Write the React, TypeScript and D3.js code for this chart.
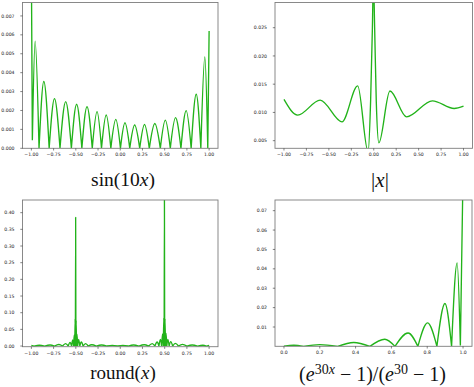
import React from 'react';
import * as d3 from 'd3';

type P = [number, number];

// ---------- data (extrema of each error curve) ----------
const sinPoints: P[] = [
  [-1.0, 0.0095], [-0.989, 0.00043], [-0.958, 0.00567], [-0.914, 0], [-0.860, 0.00353], [-0.800, 0],
  [-0.740, 0.00263], [-0.678, 0], [-0.614, 0.00247], [-0.550, 0], [-0.491, 0.00233], [-0.432, 0],
  [-0.374, 0.0022], [-0.315, 0], [-0.261, 0.00194], [-0.211, 0], [-0.158, 0.00176], [-0.106, 0],
  [-0.050, 0.00153], [0.002, 0], [0.053, 0.00135], [0.107, 0], [0.162, 0.00123], [0.219, 0],
  [0.273, 0.00126], [0.327, 0], [0.389, 0.00131], [0.451, 0], [0.507, 0.00149], [0.563, 0],
  [0.622, 0.00162], [0.683, 0], [0.742, 0.00199], [0.798, 0], [0.855, 0.00286], [0.907, 0],
  [0.952, 0.00483], [0.985, 0], [1.0, 0.0062],
];

const absPoints: P[] = [
  [-1.0, 0.0123], [-0.847, 0.00952], [-0.597, 0.01218], [-0.354, 0.00834], [-0.179, 0.0147],
  [-0.063, 0.0030], [-0.035, 0.012], [-0.015, 0.025], [-0.004, 0.034], [0.010, 0.025],
  [0.028, 0.012], [0.057, 0.00462], [0.18, 0.0138], [0.366, 0.00922], [0.653, 0.01205],
  [0.896, 0.0107], [1.0, 0.0111],
];

const roundPoints: P[] = [
  [-1.0, 0.002], [-0.97, 0], [-0.91, 0.0025], [-0.85, 0], [-0.79, 0.003], [-0.74, 0],
  [-0.69, 0.0045], [-0.65, 0], [-0.615, 0.007], [-0.585, 0], [-0.565, 0.011], [-0.548, 0],
  [-0.536, 0.018], [-0.526, 0], [-0.518, 0.033], [-0.512, 0], [-0.508, 0.082], [-0.505, 0],
  [-0.502, 0.386], [-0.499, 0], [-0.496, 0.078], [-0.492, 0], [-0.486, 0.035], [-0.479, 0],
  [-0.468, 0.02], [-0.455, 0], [-0.438, 0.012], [-0.418, 0], [-0.39, 0.007], [-0.36, 0],
  [-0.32, 0.004], [-0.27, 0], [-0.21, 0.003], [-0.15, 0], [-0.09, 0.002], [-0.03, 0],
  [0.03, 0.002], [0.09, 0], [0.15, 0.003], [0.21, 0], [0.27, 0.004], [0.32, 0],
  [0.36, 0.007], [0.39, 0], [0.415, 0.012], [0.435, 0], [0.452, 0.02], [0.465, 0],
  [0.476, 0.036], [0.484, 0], [0.49, 0.085], [0.494, 0], [0.497, 0.47], [0.5, 0],
  [0.504, 0.083], [0.509, 0], [0.516, 0.038], [0.524, 0], [0.536, 0.02], [0.55, 0],
  [0.568, 0.013], [0.59, 0], [0.62, 0.008], [0.655, 0], [0.7, 0.005], [0.75, 0],
  [0.81, 0.003], [0.87, 0], [0.93, 0.0025], [0.97, 0], [1.0, 0.002],
];

const expPoints: P[] = [
  [0.0, 0.0001], [0.055, 0.0006], [0.11, 0], [0.2, 0.0009], [0.30, 0], [0.39, 0.0020],
  [0.48, 0], [0.563, 0.0037], [0.62, 0], [0.693, 0.0069], [0.748, 0], [0.802, 0.0121],
  [0.854, 0], [0.899, 0.0221], [0.936, 0], [0.967, 0.0431], [0.985, 0.0005], [1.0, 0.09],
];

const xTicksSym = [-1, -0.75, -0.5, -0.25, 0, 0.25, 0.5, 0.75, 1];
const xTicksUnit = [0, 0.2, 0.4, 0.6, 0.8, 1.0];
const yTicksSin = [0, 0.001, 0.002, 0.003, 0.004, 0.005, 0.006, 0.007];
const yTicksAbs = [0.005, 0.01, 0.015, 0.02, 0.025];
const yTicksRound = [0, 0.05, 0.1, 0.15, 0.2, 0.25, 0.3, 0.35, 0.4];
const yTicksExp = [0.01, 0.02, 0.03, 0.04, 0.05, 0.06, 0.07];

const GREEN = '#22b31a';
const SPINE = '#7d7d7d';
const TICKFONT = 'DejaVu Sans, sans-serif';
const SERIF = 'Liberation Serif, Times New Roman, serif';

function splitAtMinima(pts: P[], cusps: boolean): P[][] {
  if (!cusps) return [pts];
  const segs: P[][] = [];
  let cur: P[] = [pts[0]];
  for (let i = 1; i < pts.length; i++) {
    cur.push(pts[i]);
    if (i < pts.length - 1 && pts[i][1] < pts[i - 1][1] && pts[i][1] < pts[i + 1][1]) {
      segs.push(cur);
      cur = [pts[i]];
    }
  }
  segs.push(cur);
  return segs;
}

interface PanelProps {
  id: string;
  L: number; R: number; T: number; B: number;
  xDomain: [number, number];
  yDomain: [number, number];
  xTicks: number[];
  yTicks: number[];
  xFmt: string;
  yFmt: string;
  points: P[];
  cusps: boolean;
}

function Panel(p: PanelProps) {
  const x = d3.scaleLinear().domain(p.xDomain).range([p.L, p.R]);
  const y = d3.scaleLinear().domain(p.yDomain).range([p.B, p.T]);
  const line = d3.line<P>().x(d => x(d[0])).y(d => y(d[1])).curve(d3.curveMonotoneX);
  const segs = splitAtMinima(p.points, p.cusps);
  const d = segs.map(s => line(s) || '').join('');
  const xf = d3.format(p.xFmt);
  const yf = d3.format(p.yFmt);
  const tl = 2.2;
  return (
    <g>
      <defs>
        <clipPath id={p.id}>
          <rect x={p.L} y={p.T} width={p.R - p.L} height={p.B - p.T} />
        </clipPath>
      </defs>
      <path d={d} fill="none" stroke={GREEN} strokeWidth={1.35} strokeLinejoin="round" clipPath={`url(#${p.id})`} />
      <rect x={p.L} y={p.T} width={p.R - p.L} height={p.B - p.T} fill="none" stroke={SPINE} strokeWidth={0.9} />
      {p.xTicks.map(t => (
        <g key={'x' + t}>
          <line x1={x(t)} x2={x(t)} y1={p.B} y2={p.B + tl} stroke="#333" strokeWidth={0.6} />
          <text x={x(t)} y={p.B + 7.8} fontSize={4.6} fontFamily={TICKFONT} fill="#222" textAnchor="middle">{xf(t)}</text>
        </g>
      ))}
      {p.yTicks.map(t => (
        <g key={'y' + t}>
          <line x1={p.L - tl} x2={p.L} y1={y(t)} y2={y(t)} stroke="#333" strokeWidth={0.6} />
          <text x={p.L - 8} y={y(t) + 1.6} fontSize={4.6} fontFamily={TICKFONT} fill="#222" textAnchor="end">{yf(t)}</text>
        </g>
      ))}
    </g>
  );
}

export default function App() {
  return (
    <svg width={474} height={387} style={{ position: 'absolute', left: 0, top: 0, background: '#fff' }}>
      <rect x={0} y={0} width={474} height={387} fill="#fff" />
      <Panel id="c1" L={22.5} R={218} T={2.5} B={148.3} xDomain={[-1.1, 1.1]} yDomain={[0, 0.00771]}
        xTicks={xTicksSym} yTicks={yTicksSin} xFmt=".2f" yFmt=".3f" points={sinPoints} cusps={true} />
      <Panel id="c2" L={275} R={472.5} T={2.5} B={148.3} xDomain={[-1.1, 1.1]} yDomain={[0.00365, 0.02946]}
        xTicks={xTicksSym} yTicks={yTicksAbs} xFmt=".2f" yFmt=".3f" points={absPoints} cusps={false} />
      <Panel id="c3" L={22.5} R={218} T={200} B={346.7} xDomain={[-1.1, 1.1]} yDomain={[-0.002, 0.438]}
        xTicks={xTicksSym} yTicks={yTicksRound} xFmt=".2f" yFmt=".2f" points={roundPoints} cusps={true} />
      <Panel id="c4" L={275} R={472} T={200} B={346.3} xDomain={[-0.05, 1.05]} yDomain={[0.00005, 0.0755]}
        xTicks={xTicksUnit} yTicks={yTicksExp} xFmt=".1f" yFmt=".2f" points={expPoints} cusps={true} />

      <text x={123} y={186} fontSize={19.5} fontFamily={SERIF} fill="#111" textAnchor="middle">
        sin(10<tspan fontStyle="italic">x</tspan>)
      </text>
      <text x={380} y={187} fontSize={21} fontFamily={SERIF} fill="#111" textAnchor="middle">
        |<tspan fontStyle="italic">x</tspan>|
      </text>
      <text x={123} y={379} fontSize={19} fontFamily={SERIF} fill="#111" textAnchor="middle">
        round(<tspan fontStyle="italic">x</tspan>)
      </text>
      <text x={372.5} y={381} fontSize={20} fontFamily={SERIF} fill="#111" textAnchor="middle">
        (<tspan fontStyle="italic">e</tspan>
        <tspan fontSize={14} dy={-7.5}>30</tspan><tspan fontSize={14} fontStyle="italic">x</tspan>
        <tspan dy={7.5}>{'\u2005\u2212\u20051)/('}</tspan><tspan fontStyle="italic">e</tspan>
        <tspan fontSize={14} dy={-7.5}>30</tspan>
        <tspan dy={7.5}>{'\u2005\u2212\u20051)'}</tspan>
      </text>
    </svg>
  );
}
